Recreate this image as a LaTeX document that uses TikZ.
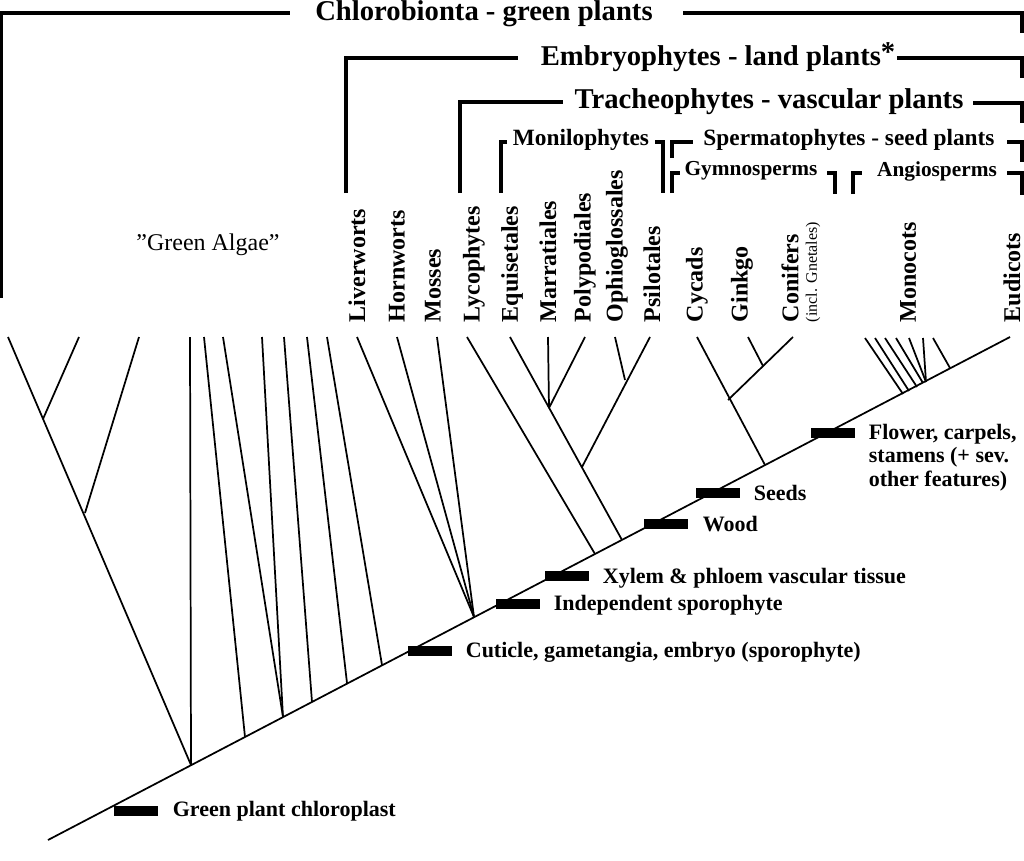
\documentclass[tikz,border=0pt]{standalone}
\usepackage{fontspec}
\setmainfont{Liberation Serif}
\begin{document}
\begin{tikzpicture}[x=0.75pt,y=-0.75pt,line width=1.3pt,
  br/.style={line width=3pt},
  lab/.style={font=\bfseries\fontsize{16.5}{17.6}\selectfont,anchor=west,inner sep=0},
  tip/.style={font=\bfseries\fontsize{18}{20}\selectfont,rotate=90,anchor=west,inner sep=0},
  big/.style={font=\bfseries\fontsize{21.5}{24}\selectfont,inner sep=0},
  mid/.style={font=\bfseries\fontsize{17.5}{19}\selectfont,inner sep=0},
  sml/.style={font=\bfseries\fontsize{16}{18}\selectfont,inner sep=0}]
\useasboundingbox (0,0) rectangle (1024,860);
% baseline
\coordinate (b0) at (48,840); \coordinate (b1) at (1010,337);
\draw (b0) -- (b1);
% green algae
\coordinate (g0) at (191,765); \coordinate (g1) at (85,513); \coordinate (g2) at (43,419);
\draw (g0) -- (8,337); \draw (g1) -- (139,337); \draw (g2) -- (79,337);
\draw (g0) -- (190,337);
\draw (245,737) -- (204,337);
\draw (283,717) -- (223,337); \draw (283,717) -- (262,337);
\draw (312,702) -- (284,337);
\draw (347,683) -- (307,337);
\draw (382,665) -- (327,337);
% land plants
\coordinate (lp) at (474,617);
\draw (lp) -- (357,337); \draw (lp) -- (397,337); \draw (lp) -- (437,337);
% lycophytes & monilophytes
\draw (595,554) -- (467,337);
\coordinate (eq) at (622,540);
\draw (eq) -- (510,337);
\coordinate (mp) at (549,408); \draw (mp) -- (548,337); \draw (mp) -- (585,337);
\coordinate (op) at (582,467); \draw (op) -- (650,337);
\draw (625,380) -- (615,337);
% seed plants
\draw (765,465) -- (697,337);
\coordinate (gk) at (728,400); \draw (gk) -- (793,337);
\draw (763,366) -- (748,337);
% angiosperms
\draw (903,394) -- (865,338); \draw (909,391) -- (875,338);
\draw (917,387) -- (885,338); \draw (923,383) -- (896,338);
\draw (926,382) -- (909,338); \draw (926,382) -- (923,338);
\draw (950,368) -- (933,338);
% bars & labels
\foreach \x/\y in {136/811,430/651,518/604,567/576,666/524,718/493,833/433}
  \fill (\x-22,\y-5) rectangle (\x+22,\y+5);
\node[lab] (l1) at (172,811) {Green plant chloroplast};
\node[lab] (l2) at (465,652) {Cuticle, gametangia, embryo (sporophyte)};
\node[lab] (l3) at (553,605) {Independent sporophyte};
\node[lab] (l4) at (602,578) {Xylem \& phloem vascular tissue};
\node[lab] (l5) at (702,524) {Wood};
\node[lab] (l6) at (753,493) {Seeds};
\node[lab,align=left,anchor=north west] (l7) at (868,423) {Flower, carpels,\\stamens (+ sev.\\other features)};
% tip labels
\foreach \x/\t in {357/Liverworts,397/Hornworts,433/Mosses,474/Lycophytes,512/Equisetales,548/Marratiales,585/Polypodiales,617/Ophioglossales,652/Psilotales,697/Cycads,742/Ginkgo,790/Conifers,908/Monocots,1012/Eudicots}
  \node[tip] at (\x,323) {\t};
\node[rotate=90,anchor=west,inner sep=0,font=\fontsize{12}{13}\selectfont] (gn) at (813,323) {(incl. Gnetales)};
\node[inner sep=0,font=\fontsize{18}{20}\selectfont] (ga) at (208,245) {\char34 Green Algae\char34};
% top brackets
\node[big] (c) at (484,14) {Chlorobionta - green plants};
\draw[br] (1,298) -- (1,13) -- (290,13);
\draw[br] (683,13) -- (1022,13) -- (1022,33);
\node[big,anchor=west] (e) at (540,57) {Embryophytes - land plants\raisebox{0.35ex}{*}};
\draw[br] (346,193) -- (346,58) -- (518,58);
\draw[br] (897,58) -- (1022,58) -- (1022,78);
\node[big] (t) at (769,102) {Tracheophytes - vascular plants};
\draw[br] (460,193) -- (460,102) -- (563,102);
\draw[br] (973,103) -- (1022,103) -- (1022,123);
\node[mid] (m) at (581,140) {Monilophytes};
\draw[br] (507,142) -- (501,142) -- (501,193);
\draw[br] (655,142) -- (663,142) -- (663,193);
\node[mid] (s) at (849,140) {Spermatophytes - seed plants};
\draw[br] (672,158) -- (672,142) -- (693,142);
\draw[br] (1007,142) -- (1022,142) -- (1022,162);
\node[sml] (gy) at (751,171) {Gymnosperms};
\draw[br] (672,193) -- (672,173) -- (680,173);
\draw[br] (827,173) -- (835,173) -- (835,194);
\node[sml] (an) at (937,171) {Angiosperms};
\draw[br] (853,194) -- (853,173) -- (862,173);
\draw[br] (1007,173) -- (1022,173) -- (1022,195);
\end{tikzpicture}
\end{document}
